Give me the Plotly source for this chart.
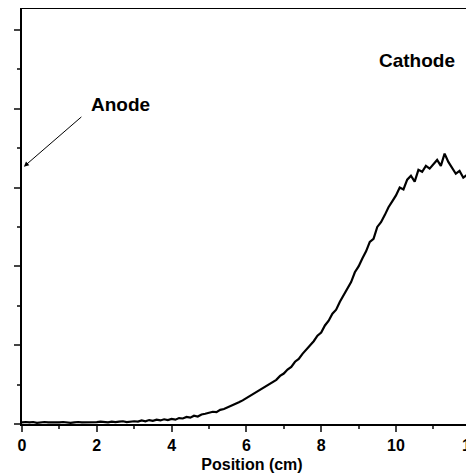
import plotly.graph_objects as go
import numpy as np

position = np.round(np.arange(0, 12.35, 0.1), 1)
signal = [0.004, 0.005, 0.004, 0.005, 0.003, 0.004, 0.005, 0.004, 0.004, 0.003,
          0.004, 0.005, 0.004, 0.003, 0.004, 0.005, 0.004, 0.004, 0.005, 0.004,
          0.005, 0.006, 0.005, 0.004, 0.006, 0.005, 0.006, 0.007, 0.005, 0.006,
          0.007, 0.006, 0.009, 0.007, 0.01, 0.008, 0.011, 0.009, 0.012, 0.01,
          0.013, 0.011, 0.015, 0.014, 0.018, 0.016, 0.021, 0.019, 0.024, 0.026,
          0.028, 0.031, 0.03, 0.036, 0.038, 0.042, 0.046, 0.05, 0.055, 0.06,
          0.066, 0.07, 0.078, 0.082, 0.09, 0.094, 0.1, 0.108, 0.112, 0.122,
          0.128, 0.138, 0.145, 0.158, 0.165, 0.178, 0.188, 0.2, 0.21, 0.224,
          0.232, 0.25, 0.262, 0.28, 0.29, 0.31, 0.326, 0.345, 0.36, 0.385,
          0.4, 0.42, 0.438, 0.462, 0.47, 0.5, 0.512, 0.53, 0.55, 0.565,
          0.58, 0.6, 0.595, 0.62, 0.63, 0.615, 0.645, 0.64, 0.655, 0.648,
          0.66, 0.67, 0.655, 0.686, 0.665, 0.65, 0.635, 0.642, 0.625, 0.632,
          0.61, 0.62, 0.605, 0.6]
x_ticks = [0, 2, 4, 6, 8, 10, 12]

fig = go.Figure(go.Scatter(x=position, y=signal, mode='lines',
                           line=dict(color='black', width=2.2)))

font = dict(family='Liberation Sans', size=16, color='black')
label_font = dict(family='Liberation Sans', size=19, color='black')
# arrow from the Anode label down to the left axis
fig.add_annotation(x=0.05, y=0.653, ax=59, ay=-51, xref='x', yref='y', text='',
                   showarrow=True, arrowhead=2, arrowsize=1, arrowwidth=1, arrowcolor='black')
fig.add_annotation(x=1.8, y=0.81, xref='x', yref='y', xanchor='left',
                   text='<b>Anode</b>', showarrow=False, font=label_font)
fig.add_annotation(x=9.5, y=0.922, xref='x', yref='y', xanchor='left',
                   text='<b>Cathode</b>', showarrow=False, font=label_font)
fig.add_shape(type='line', x0=11.98, y0=0.91, x1=12.3, y1=0.895,
              xref='x', yref='y', line=dict(color='black', width=1))

fig.update_xaxes(range=[0, 12.3], tickvals=x_ticks, ticktext=[f'<b>{t}</b>' for t in x_ticks],
                 ticks='outside', ticklen=6, tickwidth=1.5, minor=dict(dtick=1, ticks='outside', ticklen=3),
                 showline=True, linecolor='black', linewidth=2, mirror='ticks',
                 showgrid=False, zeroline=False, tickfont=font, automargin=False,
                 title=dict(text='<b>Position (cm)</b>', font=font, standoff=6))
fig.update_yaxes(range=[0, 1.053], tickvals=[0, 0.2, 0.4, 0.6, 0.8, 1.0], showticklabels=False,
                 ticks='outside', ticklen=6, tickwidth=1.5, minor=dict(dtick=0.1, ticks='outside', ticklen=3),
                 showline=True, linecolor='black', linewidth=2, mirror='ticks',
                 showgrid=False, zeroline=False, automargin=False)
fig.update_layout(width=474, height=474, margin=dict(l=14, r=0, t=1, b=58),
                  plot_bgcolor='white', paper_bgcolor='white', showlegend=False)
fig.write_html('out.html')
